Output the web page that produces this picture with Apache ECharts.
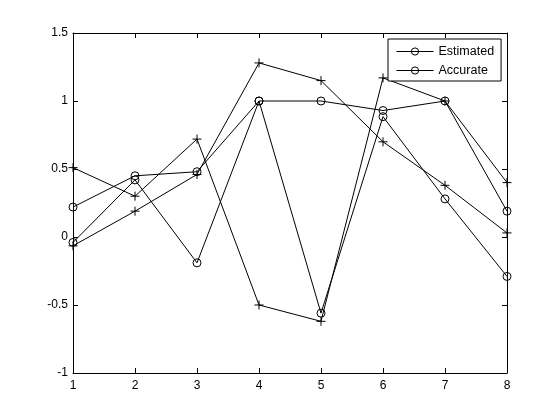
<!DOCTYPE html>
<html>
<head>
<meta charset="utf-8">
<script src="https://cdn.jsdelivr.net/npm/echarts@6/dist/echarts.min.js"></script>
<style>html,body{margin:0;padding:0;background:#fff;}#c{width:560px;height:420px;}</style>
</head>
<body>
<div id="c"></div>
<script>
var xValues = [1, 2, 3, 4, 5, 6, 7, 8];
var estimated = [0.22, 0.45, 0.48, 1.0, 1.0, 0.93, 1.0, 0.19];
var accurate = [-0.04, 0.42, -0.19, 1.0, -0.56, 0.885, 0.28, -0.29];
var plusA = [0.51, 0.30, 0.72, -0.50, -0.62, 1.17, 1.0, 0.40];
var plusB = [-0.065, 0.19, 0.46, 1.28, 1.15, 0.70, 0.38, 0.03];
var yTicks = [-1, -0.5, 0, 0.5, 1, 1.5];

function pts(arr) { return xValues.map(function (x, i) { return [x, arr[i]]; }); }

var chart = echarts.init(document.getElementById('c'), null, {renderer: 'canvas'});
var font = 'Liberation Sans, Arial, Helvetica, sans-serif';
var PLUS = 'path://M0,5H10M5,0V10';

function mk(name, data, sym, size) {
  return {
    name: name, type: 'line', data: pts(data), xAxisIndex: 0, yAxisIndex: 0,
    symbol: sym, symbolSize: size, showSymbol: true,
    color: '#000',
    lineStyle: {color: '#000', width: 1},
    itemStyle: {color: 'rgba(0,0,0,0)', borderColor: '#000', borderWidth: 1},
    emphasis: {disabled: true}, animation: false, z: 3
  };
}

var baseAxis = {
  axisLine: {show: true, onZero: false, lineStyle: {color: '#000', width: 1}},
  axisTick: {show: true, inside: true, length: 5, lineStyle: {color: '#000'}},
  splitLine: {show: false},
  axisLabel: {color: '#000', fontFamily: font, fontSize: 12}
};

chart.setOption({
  backgroundColor: '#fff',
  animation: false,
  grid: {left: 73, right: 53, top: 33, bottom: 47, containLabel: false},
  xAxis: [
    Object.assign({}, baseAxis, {type: 'value', min: 1, max: 8, interval: 1, position: 'bottom',
      axisLabel: Object.assign({}, baseAxis.axisLabel, {margin: 7})}),
    Object.assign({}, baseAxis, {type: 'value', min: 1, max: 8, interval: 1, position: 'top',
      axisLabel: {show: false}})
  ],
  yAxis: [
    Object.assign({}, baseAxis, {type: 'value', min: yTicks[0], max: yTicks[yTicks.length - 1], interval: 0.5, position: 'left',
      axisLabel: Object.assign({}, baseAxis.axisLabel, {margin: 5})}),
    Object.assign({}, baseAxis, {type: 'value', min: yTicks[0], max: yTicks[yTicks.length - 1], interval: 0.5, position: 'right',
      axisLabel: {show: false}})
  ],
  legend: {
    data: ['Estimated', 'Accurate'],
    orient: 'vertical', left: 388, top: 39,
    backgroundColor: '#fff', borderColor: '#000', borderWidth: 1,
    padding: [6, 7, 4, 8], itemGap: 6, itemWidth: 37, itemHeight: 9,
    lineStyle: {width: 1, color: '#000'},
    itemStyle: {color: 'rgba(0,0,0,0)', borderColor: '#000', borderWidth: 1},
    textStyle: {color: '#000', fontFamily: font, fontSize: 12.5, padding: [0, 0, 0, 0]},
    selectedMode: false
  },
  series: [
    mk('Estimated', estimated, 'circle', 8),
    mk('Accurate', accurate, 'circle', 8),
    mk('EstimatedPlus', plusA, PLUS, 9),
    mk('AccuratePlus', plusB, PLUS, 9)
  ]
});
</script>
</body>
</html>
